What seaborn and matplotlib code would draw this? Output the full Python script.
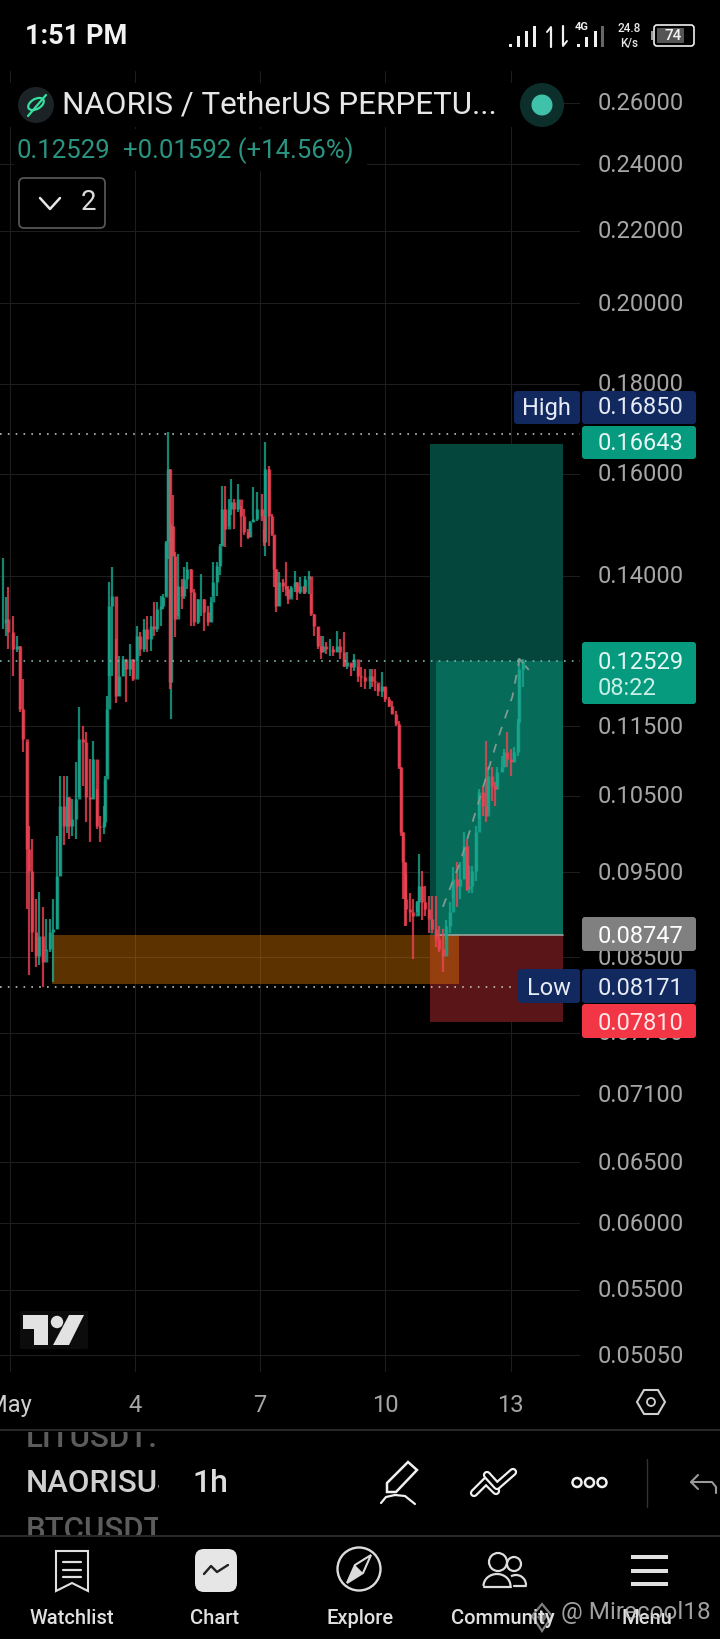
import numpy as np
import pandas as pd
import matplotlib
matplotlib.use('Agg')
import matplotlib.pyplot as plt
import seaborn as sns
from matplotlib.patches import Rectangle, FancyBboxPatch, Circle, Polygon, Arc, Ellipse

# hour since May 1 00:00 (hourly chart, read every second candle or so)
hours = [-4, -2, -1, 2, 4, 6, 8, 10, 11, 13, 15, 17, 19, 21, 23, 25, 27, 29, 31, 33, 34, 36, 38, 40, 42, 44, 46, 48, 50, 52,
         54, 55, 56, 57, 59, 61, 63, 65, 67, 69, 71, 73, 75, 77, 79, 81, 83, 85, 87, 88, 90, 91, 92, 93, 94, 95, 97, 99, 100, 102,
         104, 106, 108, 110, 112, 114, 116, 117, 119, 121, 122, 124, 126, 127, 129, 131, 133, 135, 137, 138, 140, 142, 145, 146, 147, 149, 151, 152, 153, 155,
         157, 159, 160, 162, 164, 165, 167, 169, 170, 172, 173, 175, 177, 179, 180, 182, 184, 186, 188, 190, 192, 194, 196, 198, 200, 202, 204, 207, 208, 210,
         212, 214, 216, 218, 220, 222, 224, 225, 226, 227, 228, 230, 232, 234, 235, 237, 239, 241, 243, 245, 247, 249, 251, 253, 255, 257, 259, 261, 263, 264,
         266, 268, 270, 272, 274, 275, 277, 279, 280, 283, 284, 286, 288, 290, 292, 293, 295]
highs = [.1433, .1362, .1380, .1328, .1294, .1277, .1223, .1127, .1010, .0992, .0917, .0926, .0908, .0894, .0894, .0917, .0996, .1077, .1077, .1077, .1049, .1045, .1098, .1180, .1150, .1142, .1102, .1128, .1059, .1022,
         .1036, .1077, .1196, .1389, .1416, .1289, .1261, .1261, .1256, .1280, .1256, .1311, .1301, .1323, .1328, .1328, .1353, .1353, .1363, .1367, .1465, .1690, .1610, .1498, .1556, .1444, .1441, .1394, .1416, .1426,
         .1413, .1376, .1358, .1403, .1358, .1346, .1362, .1426, .1426, .1460, .1575, .1575, .1548, .1589, .1548, .1579, .1534, .1528, .1489, .1504, .1573, .1562, .1558, .1489, .1668, .1616, .1518, .1475, .1413, .1407,
         .1394, .1426, .1382, .1382, .1409, .1389, .1398, .1382, .1400, .1409, .1367, .1332, .1309, .1294, .1294, .1284, .1289, .1277, .1303, .1289, .1301, .1267, .1247, .1264, .1242, .1242, .1239, .1239, .1239, .1239,
         .1215, .1234, .1210, .1195, .1189, .1173, .1158, .1091, .1001, .0963, .0948, .0925, .0917, .0915, .0973, .0951, .0933, .0921, .0921, .0921, .0885, .0882, .0892, .0914, .0957, .0963, .0963, .1001, .0992, .0958,
         .0958, .1009, .1059, .1063, .1128, .1091, .1091, .1069, .1091, .1106, .1116, .1142, .1116, .1120, .1161, .1253, .1256]
lows = [.1306, .1294, .1272, .1228, .1267, .1172, .1112, .0905, .0831, .0856, .0839, .0842, .0818, .0857, .0856, .0823, .0882, .0945, .0985, .1000, .0992, .0996, .0992, .1048, .1063, .1014, .0988, .1045, .1005, .0988,
        .0999, .1009, .1077, .1228, .1228, .1185, .1196, .1228, .1187, .1228, .1220, .1253, .1261, .1267, .1267, .1269, .1294, .1301, .1311, .1341, .1363, .1431, .1207, .1161, .1437, .1292, .1328, .1341, .1358, .1376,
        .1311, .1311, .1315, .1328, .1303, .1311, .1318, .1363, .1363, .1401, .1456, .1454, .1494, .1516, .1489, .1522, .1454, .1477, .1469, .1473, .1502, .1504, .1504, .1456, .1437, .1456, .1475, .1380, .1336, .1346,
        .1371, .1363, .1349, .1362, .1371, .1356, .1367, .1367, .1367, .1367, .1328, .1294, .1272, .1256, .1267, .1264, .1261, .1261, .1267, .1256, .1242, .1239, .1228, .1236, .1218, .1210, .1207, .1207, .1210, .1204,
        .1196, .1195, .1187, .1180, .1169, .1150, .1087, .0996, .0917, .0885, .0885, .0890, .0848, .0902, .0897, .0892, .0897, .0878, .0878, .0862, .0856, .0834, .0871, .0878, .0919, .0908, .0917, .0942, .0927, .0925,
        .0925, .0939, .1018, .1022, .1014, .1028, .1043, .1036, .1059, .1083, .1091, .1091, .1077, .1098, .1106, .1153, .1210]
closes = [.1317, .1323, .1301, .1272, .1277, .1176, .1131, .0979, .0952, .0879, .0851, .0874, .0845, .0859, .0879, .0882, .0945, .1036, .1009, .1049, .1009, .1018, .1045, .1131, .1127, .1049, .1045, .1102, .1009, .1008,
          .1014, .1073, .1176, .1346, .1363, .1196, .1228, .1256, .1239, .1256, .1223, .1294, .1272, .1306, .1289, .1311, .1306, .1341, .1346, .1362, .1463, .1610, .1218, .1494, .1437, .1323, .1382, .1363, .1394, .1413,
          .1371, .1318, .1358, .1358, .1336, .1318, .1353, .1389, .1418, .1456, .1528, .1489, .1528, .1542, .1528, .1548, .1514, .1483, .1473, .1502, .1508, .1528, .1514, .1463, .1610, .1514, .1479, .1413, .1346, .1389,
          .1382, .1376, .1358, .1380, .1389, .1371, .1382, .1371, .1394, .1400, .1332, .1311, .1277, .1267, .1277, .1272, .1272, .1267, .1277, .1267, .1244, .1251, .1242, .1256, .1228, .1226, .1220, .1228, .1220, .1218,
          .1204, .1212, .1192, .1181, .1169, .1153, .1091, .1001, .0963, .0917, .0905, .0902, .0897, .0914, .0933, .0914, .0905, .0894, .0882, .0871, .0859, .0851, .0885, .0902, .0942, .0933, .0942, .0983, .0929, .0933,
          .0951, .1001, .1055, .1036, .1022, .1077, .1063, .1059, .1083, .1091, .1112, .1102, .1098, .1112, .1157, .1239, .12529]

# dashed projection drawn on the chart
path_hours = [249, 259, 270, 280, 289, 293, 288]
path_prices = [.0908, .0963, .1045, .1127, .1196, .1256, .1247]
head_hours = [293, 299]
head_prices = [.1256, .1236]

price_ticks = [.26, .24, .22, .20, .18, .16, .14, .115, .105, .095, .085, .077, .071, .065, .06, .055, .0505]
day_hours = [0, 72, 144, 216, 288]
day_labels = ['May', '4', '7', '10', '13']

high_price = 0.16850
low_price = 0.08171
last_price = 0.12529
target_price = 0.16643
entry_price = 0.08747
stop_price = 0.07810
zone_low = 0.0821
zone_hours = [24.4, 258]
box_hours = [241.6, 245, 318]

BG = '#000000'
GREEN = '#1aa88e'
RED = '#ee4354'

sns.set_theme(style='dark', rc={'figure.facecolor': BG, 'axes.facecolor': BG, 'savefig.facecolor': BG})
plt.rcParams['font.family'] = ['Roboto', 'DejaVu Sans']
plt.rcParams['patch.force_edgecolor'] = False
plt.rcParams['patch.edgecolor'] = 'none'

fig = plt.figure(figsize=(7.2, 16.4), dpi=100)
ax = fig.add_axes([0, (1640 - 1373) / 1640, 580 / 720, (1373 - 72) / 1640])
ax.set_yscale('log')

# position box and zone
ax.add_patch(Rectangle((box_hours[0], entry_price), box_hours[2] - box_hours[0], target_price - entry_price,
                       fc='#05463c', ec='none', zorder=1))
ax.add_patch(Rectangle((box_hours[1], entry_price), box_hours[2] - box_hours[1], last_price - entry_price,
                       fc='#066b59', ec='none', zorder=1.1))
ax.add_patch(Rectangle((box_hours[0], stop_price), box_hours[2] - box_hours[0], entry_price - stop_price,
                       fc='#5a1518', ec='none', zorder=1))
ax.add_patch(Rectangle((zone_hours[0], zone_low), zone_hours[1] - zone_hours[0], entry_price - zone_low,
                       fc='#ff8c00', alpha=0.36, ec='none', zorder=1.2))
ax.plot([box_hours[1], box_hours[2]], [entry_price, entry_price], color='#9aa5a0', lw=1.2, zorder=1.3)

# candles, as one short line per candle
opens = [closes[0]] + closes[:-1]
candle_dir = ['up' if c >= o else 'down' for o, c in zip(opens, closes)]
n = len(hours)
wicks = pd.DataFrame({'hour': hours * 2, 'price': highs + lows, 'candle': list(range(n)) * 2, 'dir': candle_dir * 2})
bodies = pd.DataFrame({'hour': hours * 2, 'price': opens + closes, 'candle': list(range(n)) * 2, 'dir': candle_dir * 2})
palette = {'up': GREEN, 'down': RED}
sns.lineplot(data=wicks, x='hour', y='price', hue='dir', palette=palette, units='candle', estimator=None, sort=False,
             lw=1.6, legend=False, ax=ax, zorder=3, solid_capstyle='butt', alpha=0.8)
sns.lineplot(data=bodies, x='hour', y='price', hue='dir', palette=palette, units='candle', estimator=None, sort=False,
             lw=2.5, legend=False, ax=ax, zorder=3.1, solid_capstyle='butt', alpha=0.8)

# projection arrow
sns.lineplot(x=path_hours, y=path_prices, color='#7f9a90', estimator=None, sort=False, lw=1.3, ax=ax, zorder=3.5,
             linestyle=(0, (5, 5)), legend=False)
sns.lineplot(x=head_hours, y=head_prices, color='#7f9a90', estimator=None, sort=False, lw=1.3, ax=ax, zorder=3.5,
             linestyle=(0, (3, 2)), legend=False)

# dotted high / low / last lines
ax.plot([-5.5, 330], [high_price, high_price], color='#bdbdbd', lw=1.2, ls=(0, (1, 3.7)), zorder=4)
ax.plot([-5.5, 290], [low_price, low_price], color='#bdbdbd', lw=1.2, ls=(0, (1, 3.7)), zorder=4)
ax.plot([-5.5, 330], [last_price, last_price], color='#7fb5a8', lw=1.2, ls=(0, (1, 3.7)), zorder=4)

ax.set_xlim(-5.5, 327.8)
ax.set_ylim(0.0494, 0.2711)
ax.set_xticks(day_hours)
ax.set_xticklabels(day_labels)
ax.yaxis.tick_right()
ax.yaxis.set_major_locator(matplotlib.ticker.FixedLocator(price_ticks))
ax.yaxis.set_minor_locator(matplotlib.ticker.NullLocator())
ax.yaxis.set_major_formatter(matplotlib.ticker.FuncFormatter(lambda v, _: '%.5f' % v))
ax.tick_params(axis='y', length=0, pad=12.5, labelsize=17, labelcolor='#a6a6a6')
ax.tick_params(axis='x', length=0, pad=15, labelsize=17, labelcolor='#a6a6a6')
for tick in ax.get_yticklabels():
    tick.set_va('center')
ax.get_xticklabels()[0].set_color('#cfcfcf')
ax.set_xlabel('')
ax.set_ylabel('')
ax.grid(True, color='#1d1d1d', lw=0.8)
ax.set_axisbelow(True)
ax.spines[['right', 'top', 'left', 'bottom']].set_visible(False)

# app chrome on a pixel overlay
ui = fig.add_axes([0, 0, 1, 1], zorder=5)
ui.set_xlim(0, 720)
ui.set_ylim(1640, 0)
ui.axis('off')
ui.patch.set_alpha(0)


def label(x, y, s, color='#e6e6e6', size=17, ha='left', weight='normal', **kw):
    return ui.text(x, y, s, color=color, fontsize=size, ha=ha, va='center', fontweight=weight, **kw)


def box(x0, y0, x1, y1, color, r=3, ec='none', lw=0):
    ui.add_patch(FancyBboxPatch((x0 + r, y0 + r), x1 - x0 - 2 * r, y1 - y0 - 2 * r, boxstyle='round,pad=%d' % r,
                                fc=color, ec=ec, lw=lw))


# status bar
label(25, 37, '1:51 PM', '#f2f2f2', 19.5, weight='bold')
for x, top in zip([510, 518, 526, 534], [45, 37, 32, 27]):
    ui.add_patch(Rectangle((x - 1.5, top), 3, 47.5 - top, fc='#f0f0f0'))
ui.plot([551, 551], [29, 48], color='#f0f0f0', lw=1.6)
ui.plot([547, 551], [33, 28], color='#f0f0f0', lw=1.4)
ui.plot([563, 563], [27, 46], color='#f0f0f0', lw=1.6)
ui.plot([563, 567], [47, 42], color='#f0f0f0', lw=1.4)
for x, top, c in zip([578, 586, 595, 602], [45, 38, 32, 27], ['#f0f0f0', '#f0f0f0', '#f0f0f0', '#666666']):
    ui.add_patch(Rectangle((x - 1.5, top), 3, 47.5 - top, fc=c))
label(582, 27, '4G', '#f0f0f0', 8, ha='center', weight='bold')
label(629, 29, '24.8', '#e8e8e8', 8.5, ha='center', weight='medium')
label(629, 44, 'K/s', '#e8e8e8', 8.5, ha='center', weight='medium')
box(654, 26, 694, 47, '#000000', r=3, ec='#f0f0f0', lw=1.2)
box(657, 29, 684, 44, '#555555', r=1)
ui.add_patch(Rectangle((650.5, 32), 2, 9, fc='#999999'))
label(673, 36.5, '74', '#f4f4f4', 11, ha='center', weight='medium')

# header
ui.add_patch(Rectangle((0, 84), 530, 44, fc=BG))
ui.add_patch(Rectangle((14, 130), 353, 42, fc=BG))
ui.add_patch(Circle((36, 106), 18, fc='#1c2326'))
ui.add_patch(Ellipse((36, 105), 17, 10, angle=-30, fc='none', ec='#35e0a0', lw=1.6))
ui.plot([28, 46], [117, 96], color='#35e0a0', lw=1.6)
label(62, 105, 'NAORIS / TetherUS PERPETU...', '#e6e6e6', 22.6)
ui.add_patch(Circle((542, 106), 22, fc='#0c2f2b'))
ui.add_patch(Circle((542, 106), 10.5, fc='#3fc1aa'))
label(17, 151, '0.12529', '#2a9480', 18.5)
label(123, 151, '+0.01592 (+14.56%)', '#2a9480', 18.5)
box(19, 179, 105, 229, '#000000', r=5, ec='#555555', lw=1.3)
ui.plot([40, 50, 60], [199, 210, 199], color='#e6e6e6', lw=1.8)
label(88, 203, '2', '#dcdcdc', 20, ha='center')

# price labels
TEAL = '#069a7f'
NAVY = '#12295f'
box(514, 392, 580, 425, NAVY)
box(582, 392, 696, 425, NAVY)
label(522, 408, 'High', '#e6ebf5', 17)
label(598, 408, '0.16850', '#e6ebf5', 17)
box(582, 427, 696, 460, TEAL)
label(598, 444, '0.16643', '#e3f7f2', 17)
box(582, 643, 696, 705, TEAL)
label(598, 663, '0.12529', '#e3f7f2', 17)
label(598, 689, '08:22', '#c8efe5', 17)
box(582, 918, 696, 952, '#808080')
label(598, 937, '0.08747', '#ffffff', 17)
box(518, 970, 580, 1004, NAVY)
box(582, 970, 696, 1004, NAVY)
label(527, 989, 'Low', '#e6ebf5', 17)
label(598, 989, '0.08171', '#e6ebf5', 17)
box(582, 1005, 696, 1039, '#f23645')
label(598, 1024, '0.07810', '#ffe6e8', 17)

# tradingview mark
box(20, 1312, 88, 1350, '#0c0c0c', r=2)
ui.add_patch(Polygon([(23, 1316), (48, 1316), (48, 1346), (34, 1346), (34, 1330), (23, 1330)], fc='#e2e2e2'))
ui.add_patch(Circle((57, 1323), 6.2, fc='#e2e2e2'))
ui.add_patch(Polygon([(69, 1316), (84, 1316), (69, 1346), (53, 1346)], fc='#e2e2e2'))

# settings hexagon
ui.add_patch(Polygon([(637, 1403), (644, 1391), (658, 1391), (665, 1403), (658, 1415), (644, 1415)],
                     fc='none', ec='#cfcfcf', lw=1.5))
ui.add_patch(Circle((651, 1403), 4, fc='none', ec='#cfcfcf', lw=1.3))

# toolbar
ui.plot([0, 720], [1431, 1431], color='#2b2b2b', lw=1.4)
ui.plot([0, 720], [1537, 1537], color='#2b2b2b', lw=1.4)
clip_top = Rectangle((26, 1433), 132, 30, transform=ui.transData)
t = label(26, 1439, 'LITUSDT.P', '#5c5c5c', 22.5, weight='medium')
t.set_clip_path(clip_top)
t.set_clip_on(True)
clip_mid = Rectangle((26, 1465), 133, 40, transform=ui.transData)
t = label(26, 1484, 'NAORISUSDT', '#cfcfcf', 22.5, weight='medium')
t.set_clip_path(clip_mid)
t.set_clip_on(True)
clip_bot = Rectangle((26, 1515), 132, 21, transform=ui.transData)
t = label(26, 1531, 'BTCUSDT', '#5c5c5c', 22.5, weight='medium')
t.set_clip_path(clip_bot)
t.set_clip_on(True)
label(192, 1484, '1h', '#dedede', 23, weight='medium')

ui.add_patch(Polygon([(387, 1484), (408, 1463), (417, 1471), (396, 1493), (387, 1493)], fc='none', ec='#f0f0f0', lw=1.8))
ui.plot([381, 386, 395, 405, 415], [1504, 1498, 1496, 1497, 1505], color='#f0f0f0', lw=1.6)
# trend icon, hollow chevrons
for xs, ys in [([474, 486, 496], [1494, 1482, 1492]), ([487, 497, 513], [1476, 1487, 1473])]:
    ui.plot(xs, ys, color='#f0f0f0', lw=6, solid_capstyle='round')
    ui.plot(xs, ys, color=BG, lw=2.8, solid_capstyle='round')
for x in [577, 589.5, 602]:
    ui.add_patch(Circle((x, 1483.5), 4.5, fc='none', ec='#f0f0f0', lw=1.8))
ui.plot([647, 647], [1460, 1508], color='#333333', lw=1)
ui.plot([691, 700, 712, 716, 716], [1483, 1483, 1483, 1488, 1494], color='#9a9a9a', lw=1.5)
ui.plot([698, 691, 698], [1476, 1483, 1490], color='#9a9a9a', lw=1.5)

# bottom nav
ui.add_patch(Polygon([(56, 1552), (88, 1552), (88, 1592), (72, 1584), (56, 1592)], fc='none', ec='#e0e0e0', lw=1.5))
for y in [1563, 1571, 1578]:
    ui.plot([63, 81], [y, y], color='#e0e0e0', lw=1.6)
box(195, 1550, 237, 1593, '#e6e6e6', r=9)
ui.plot([204, 211, 217, 228], [1575, 1567, 1573, 1566], color='#222222', lw=1.7)
ui.add_patch(Circle((359, 1570), 21.5, fc='none', ec='#dcdcdc', lw=1.7))
ui.add_patch(Polygon([(347, 1584), (355, 1566), (371, 1556), (363, 1574)], fc='none', ec='#dcdcdc', lw=1.5))
ui.add_patch(Polygon([(355, 1566), (363, 1574), (347, 1584)], fc='#dcdcdc'))
ui.add_patch(Circle((498, 1563), 9, fc='none', ec='#dcdcdc', lw=1.6))
ui.add_patch(Circle((514, 1565), 7, fc='none', ec='#dcdcdc', lw=1.6))
ui.add_patch(Arc((497, 1587), 27, 24, theta1=180, theta2=360, ec='#dcdcdc', lw=1.6))
ui.plot([483.5, 510.5], [1588, 1588], color='#dcdcdc', lw=1.6)
ui.add_patch(Arc((516, 1586), 20, 20, theta1=240, theta2=360, ec='#dcdcdc', lw=1.6))
ui.plot([514, 526], [1586.5, 1586.5], color='#dcdcdc', lw=1.6)
for y in [1558, 1572, 1585]:
    ui.add_patch(Rectangle((631, y - 2), 37, 4, fc='#e0e0e0'))

for x, name in zip([72, 215, 360, 503, 647], ['Watchlist', 'Chart', 'Explore', 'Community', 'Menu']):
    label(x, 1619, name, '#e0e0e0', 14.5, ha='center', weight='medium')

# watermark
ui.add_patch(Polygon([(542, 1605), (552, 1617), (542, 1632), (532, 1617)], fc='none', ec='#a0a0a0', lw=1.6, alpha=0.8))
ui.add_patch(Polygon([(542, 1612), (547, 1618), (542, 1625), (537, 1618)], fc='#a0a0a0', alpha=0.7))
label(561, 1613, '@ Mirecool18', '#bdbdbd', 17.5, alpha=0.85)

fig.savefig('out.png', dpi=100, facecolor=BG)
